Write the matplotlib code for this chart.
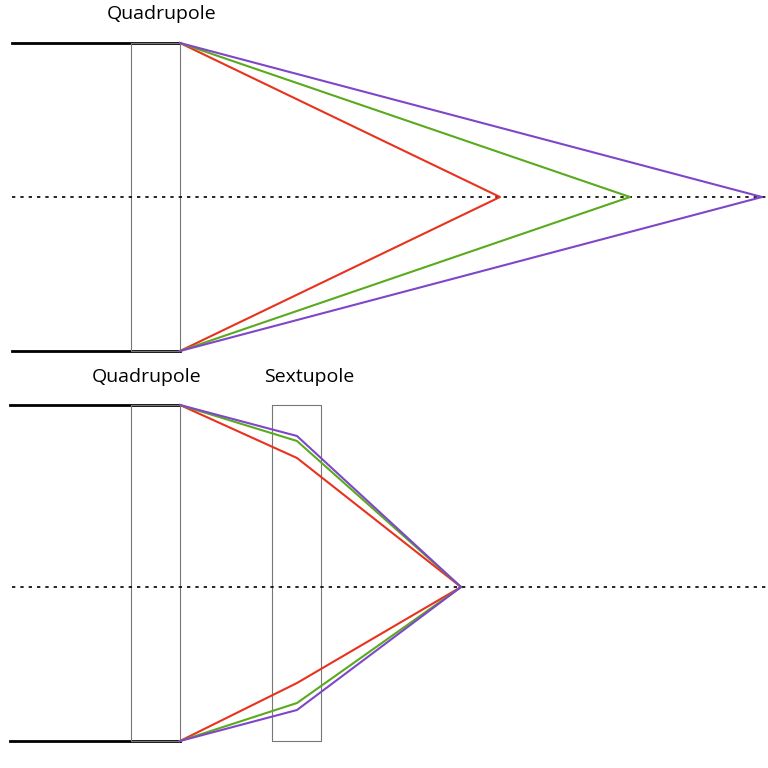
import matplotlib.pyplot as plt

# colours of the three rays
ray_colors = ["#e8321e", "#5aaa1e", "#7f46c8"]

# top panel (pixel coords)
top_y = [43, 351]
top_axis_y = 197
top_focus_x = [500, 630, 762]

# bottom panel
bot_y = [405, 741]
bot_axis_y = 587
bot_focus_x = 461
sext_x = 297
sext_top_y = [458, 441, 436]
sext_bot_y = [683, 703, 710]

fig = plt.figure(figsize=(7.68, 7.68), dpi=100)
ax = fig.add_axes([0, 0, 1, 1])
ax.set_xlim(0, 768)
ax.set_ylim(768, 0)
ax.axis("off")

def box(x0, x1, y0, y1):
    ax.plot([x0, x1, x1, x0, x0], [y0, y0, y1, y1, y0], color="#777777", lw=0.8)

# top
for y in top_y:
    ax.plot([12, 180], [y, y], color="black", lw=2)
box(131, 180, top_y[0], top_y[1])
ax.plot([12, 768], [top_axis_y, top_axis_y], color="black", lw=1.2, ls=(0, (2, 3)))
for c, fx in zip(ray_colors, top_focus_x):
    ax.plot([180, fx, 180], [top_y[0], top_axis_y, top_y[1]], color=c, lw=1.5)
ax.text(162, 14, "Quadrupole", ha="center", va="center", fontsize=14, family="Open Sans")

# bottom
for y in bot_y:
    ax.plot([10, 180], [y, y], color="black", lw=2)
box(131, 180, bot_y[0], bot_y[1])
box(272, 321, bot_y[0], bot_y[1])
ax.plot([12, 768], [bot_axis_y, bot_axis_y], color="black", lw=1.2, ls=(0, (2, 3)))
for c, ty, by in zip(ray_colors, sext_top_y, sext_bot_y):
    ax.plot([180, sext_x, bot_focus_x, sext_x, 180],
            [bot_y[0], ty, bot_axis_y, by, bot_y[1]], color=c, lw=1.5)
ax.text(147, 377, "Quadrupole", ha="center", va="center", fontsize=14, family="Open Sans")
ax.text(309, 377, "Sextupole", ha="center", va="center", fontsize=14, family="Open Sans")

fig.savefig("out.png", dpi=100)
